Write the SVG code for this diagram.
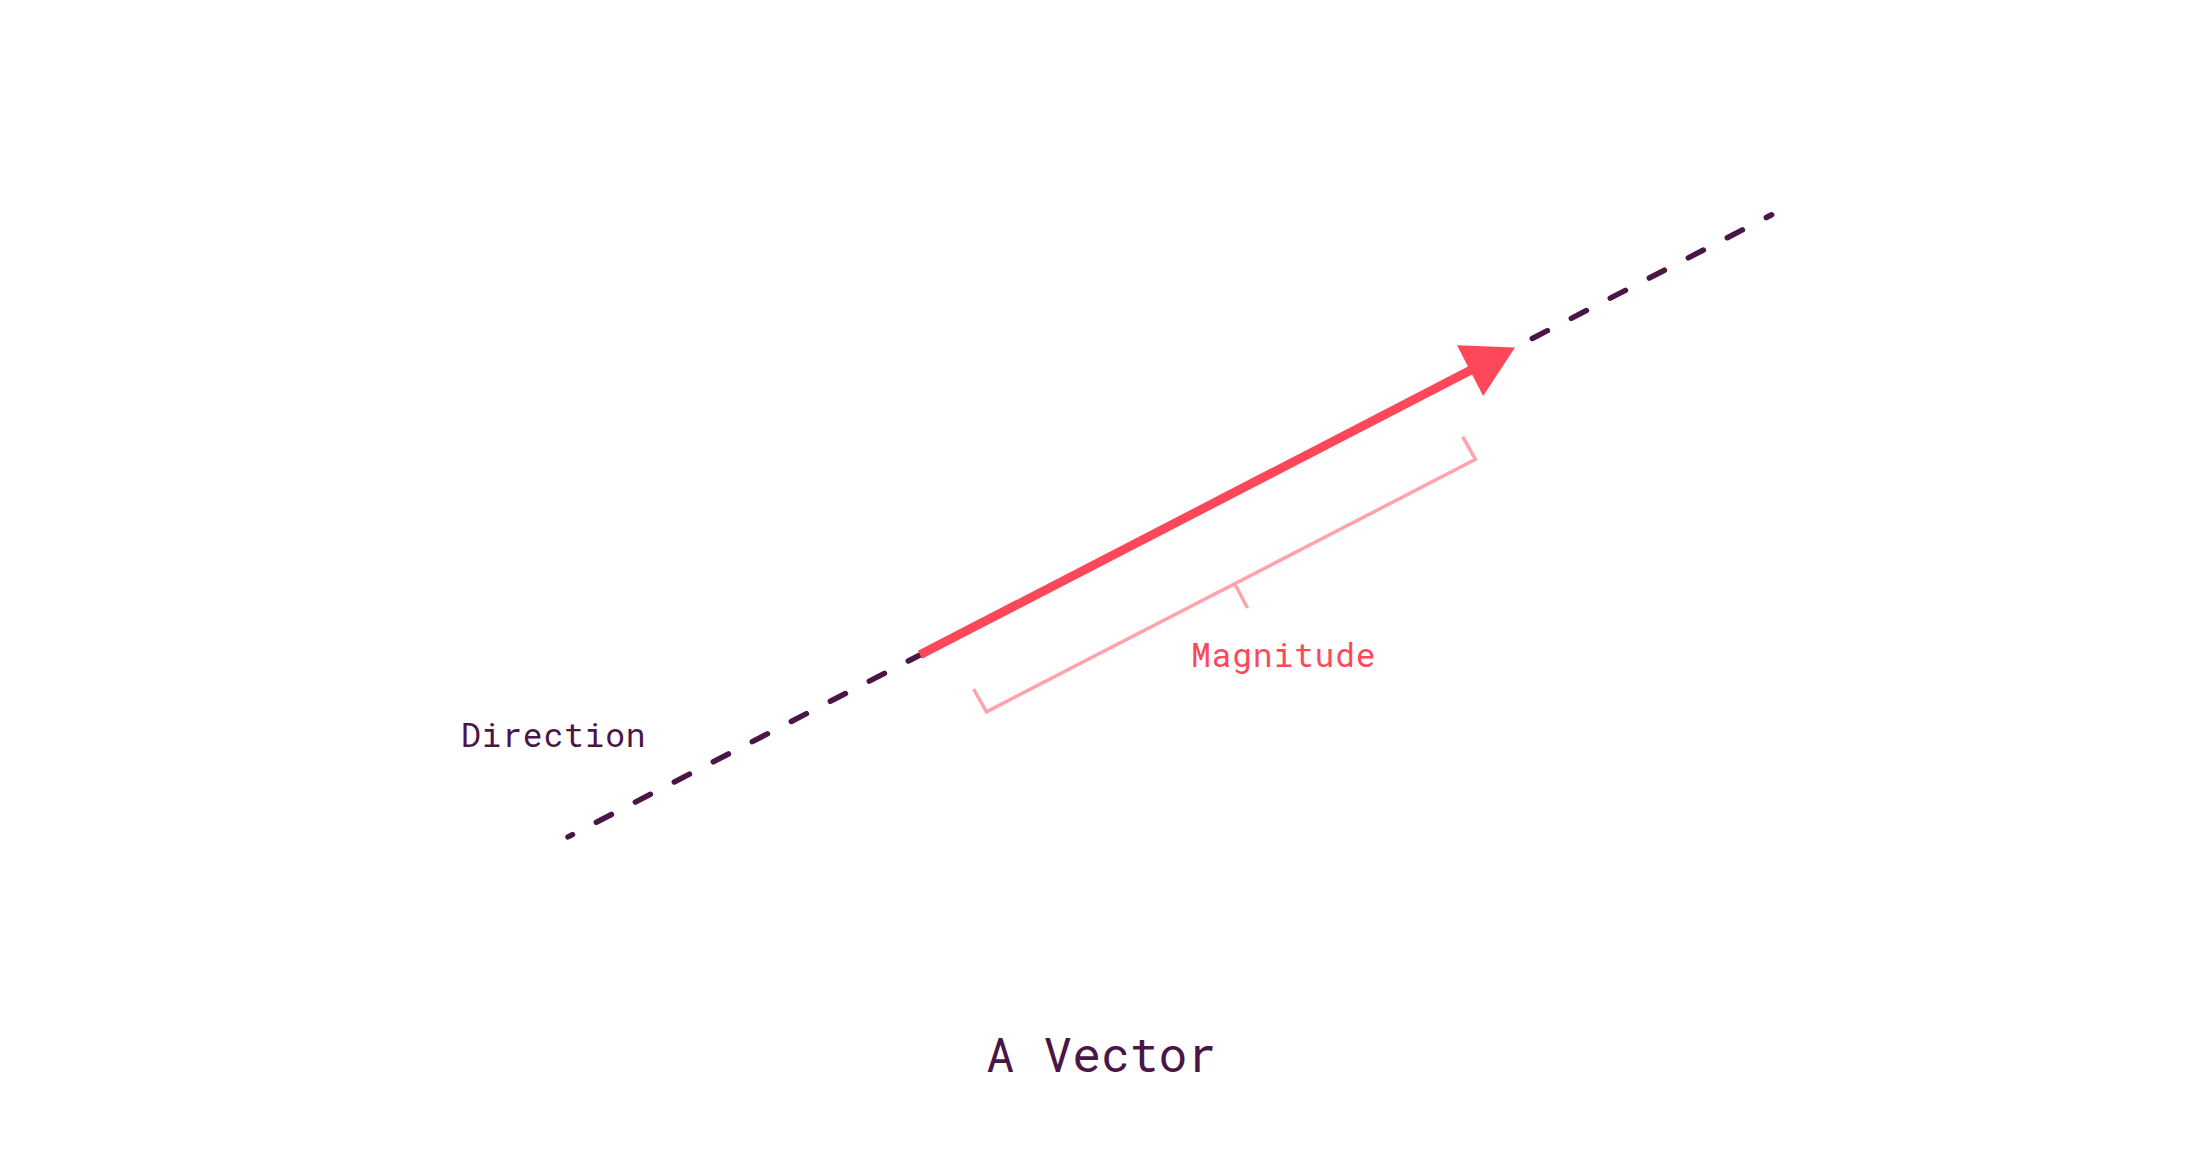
<svg xmlns="http://www.w3.org/2000/svg" width="2200" height="1168" viewBox="0 0 2200 1168">
<style>
.t{font-family:"Roboto Mono","DejaVu Sans Mono","Liberation Mono",monospace;}
.dark{fill:#4a1646;}
.red{fill:#ff475a;}
</style>
<rect width="2200" height="1168" fill="#ffffff"/>
<g id="connectors">
<path id="direction-line" d="M568 836.9 L1771.6 214.8" fill="none" stroke="#4a1646" stroke-width="5.5" stroke-linecap="round" stroke-dasharray="17 26.9" stroke-dashoffset="12"/>
<g id="vector">
<path d="M920 654.8 L1472 369.6" fill="none" stroke="#ff475a" stroke-width="9"/>
<polygon points="1515,347.4 1457,345.2 1483.2,396" fill="#ff475a"/>
</g>
<g id="magnitude-bracket" fill="none" stroke="#ffa3ad" stroke-width="3.5" stroke-linejoin="miter">
<path d="M973.6 689 L986.5 711.8 L1475.5 459.4 L1462.6 436.6"/>
<path d="M1234.5 583.5 L1247.5 608"/>
</g>
</g>
<g id="label-direction"><text class="t dark" x="461" y="747" font-size="33" letter-spacing="0.8">Direction</text></g>
<g id="label-magnitude"><text class="t red" x="1191" y="667" font-size="33" letter-spacing="0.8">Magnitude</text></g>
<g id="title"><text class="t dark" x="1101" y="1072" font-size="48" text-anchor="middle">A Vector</text></g>
</svg>
